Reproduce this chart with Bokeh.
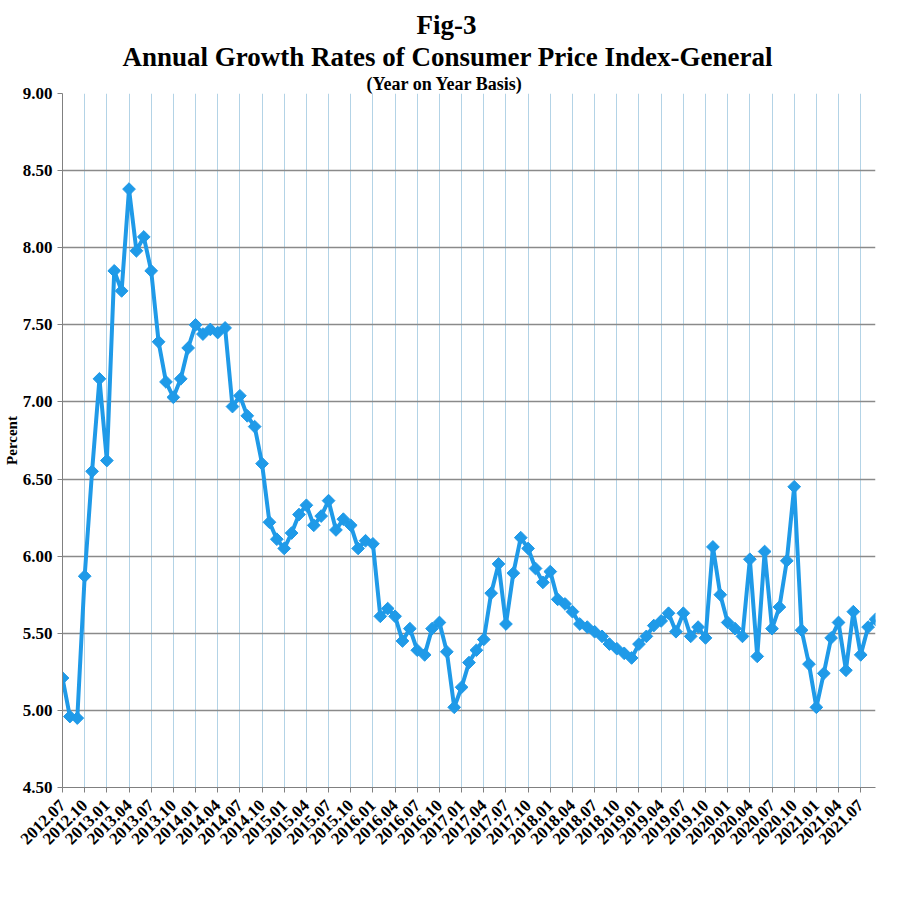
import math
from bokeh.plotting import figure
from bokeh.models import Range1d, FixedTicker, Title, NumeralTickFormatter
from bokeh.embed import file_html
from bokeh.resources import INLINE

# Monthly CPI-General year-on-year growth (%), 2012.07 .. 2021.09
cpi = [
    5.21, 4.96, 4.95, 5.87, 6.55, 7.15, 6.62, 7.85, 7.72, 8.38, 7.98, 8.07,   # 2012.07-2013.06
    7.85, 7.39, 7.13, 7.03, 7.15, 7.35, 7.50, 7.44, 7.47, 7.45, 7.48, 6.97,   # 2013.07-2014.06
    7.04, 6.91, 6.84, 6.60, 6.22, 6.11, 6.05, 6.15, 6.27, 6.33, 6.20, 6.26,   # 2014.07-2015.06
    6.36, 6.17, 6.24, 6.20, 6.05, 6.10, 6.08, 5.61, 5.66, 5.61, 5.45, 5.53,   # 2015.07-2016.06
    5.39, 5.36, 5.53, 5.57, 5.38, 5.02, 5.15, 5.31, 5.39, 5.46, 5.76, 5.95,   # 2016.07-2017.06
    5.56, 5.89, 6.12, 6.05, 5.92, 5.83, 5.90, 5.72, 5.69, 5.64, 5.56, 5.54,   # 2017.07-2018.06
    5.51, 5.48, 5.43, 5.40, 5.37, 5.34, 5.43, 5.48, 5.55, 5.58, 5.63, 5.51,   # 2018.07-2019.06
    5.63, 5.48, 5.54, 5.47, 6.06, 5.75, 5.57, 5.53, 5.48, 5.98, 5.35, 6.03,   # 2019.07-2020.06
    5.53, 5.67, 5.97, 6.45, 5.52, 5.30, 5.02, 5.24, 5.47, 5.57, 5.26, 5.64,   # 2020.07-2021.06
    5.36, 5.54, 5.59,                                                          # 2021.07-2021.09
]

tick_labels = [
    "2012.07", "2012.10", "2013.01", "2013.04", "2013.07", "2013.10",
    "2014.01", "2014.04", "2014.07", "2014.10", "2015.01", "2015.04",
    "2015.07", "2015.10", "2016.01", "2016.04", "2016.07", "2016.10",
    "2017.01", "2017.04", "2017.07", "2017.10", "2018.01", "2018.04",
    "2018.07", "2018.10", "2019.01", "2019.04", "2019.07", "2019.10",
    "2020.01", "2020.04", "2020.07", "2020.10", "2021.01", "2021.04",
    "2021.07",
]

y_ticks = [4.5, 5.0, 5.5, 6.0, 6.5, 7.0, 7.5, 8.0, 8.5, 9.0]

x = list(range(len(cpi)))
x_ticks = [3 * i for i in range(len(tick_labels))]

SERIF = "Liberation Serif"
BLUE = "#1f9ae8"

p = figure(width=900, height=904, output_backend="svg", toolbar_location=None,
           title=None,
           x_range=Range1d(0, len(cpi) - 1), y_range=Range1d(y_ticks[0], y_ticks[-1]),
           min_border_left=60, min_border_right=25, min_border_top=93,
           min_border_bottom=117, background_fill_color="white",
           border_fill_color="white")
p.outline_line_color = None

# titles (added closest-first); left-aligned with offsets so they centre on the page
p.add_layout(Title(text="(Year on Year Basis)", text_font=SERIF, text_font_style="bold",
                   text_font_size="18px", text_color="black", align="left",
                   offset=304, standoff=0), "above")
p.add_layout(Title(text="Annual Growth Rates of Consumer Price Index-General", text_font=SERIF,
                   text_font_style="bold", text_font_size="27px", text_color="black",
                   align="left", offset=60, standoff=0), "above")
p.add_layout(Title(text="Fig-3", text_font=SERIF, text_font_style="bold",
                   text_font_size="27px", text_color="black", align="left",
                   offset=354, standoff=0), "above")

# axes
p.xaxis.ticker = FixedTicker(ticks=x_ticks)
p.xaxis.major_label_overrides = {t: l for t, l in zip(x_ticks, tick_labels)}
p.xaxis.major_label_orientation = math.pi / 4
p.xaxis.major_label_text_font = SERIF
p.xaxis.major_label_text_font_style = "bold"
p.xaxis.major_label_text_font_size = "17px"
p.xaxis.major_label_text_color = "black"
p.xaxis.major_label_standoff = 10
p.xaxis.major_tick_in = 0
p.xaxis.major_tick_out = 5
p.xaxis.minor_tick_line_color = None
p.xaxis.axis_line_color = "#808080"
p.xaxis.major_tick_line_color = "#808080"

p.yaxis.ticker = FixedTicker(ticks=y_ticks)
p.yaxis.formatter = NumeralTickFormatter(format="0.00")
p.yaxis.major_label_text_font = SERIF
p.yaxis.major_label_text_font_style = "bold"
p.yaxis.major_label_text_font_size = "17px"
p.yaxis.major_label_text_color = "black"
p.yaxis.major_label_standoff = 5
p.yaxis.major_tick_in = 0
p.yaxis.major_tick_out = 5
p.yaxis.minor_tick_line_color = None
p.yaxis.axis_line_color = "#808080"
p.yaxis.major_tick_line_color = "#808080"
p.yaxis.axis_label = "Percent"
p.yaxis.axis_label_text_font = SERIF
p.yaxis.axis_label_text_font_style = "bold"
p.yaxis.axis_label_text_font_size = "15px"
p.yaxis.axis_label_text_color = "black"
p.yaxis.axis_label_standoff = 0

# grids
p.xgrid.grid_line_color = "#b3d3e6"
p.xgrid.grid_line_width = 1
p.ygrid.grid_line_color = "#8a8a8a"
p.ygrid.grid_line_width = 1.5

# series
p.line(x, cpi, line_color=BLUE, line_width=4)
p.scatter(x, cpi, marker="square", angle=math.pi / 4, size=9,
          fill_color=BLUE, line_color=BLUE)

open("out.html", "w").write(file_html(p, INLINE))
